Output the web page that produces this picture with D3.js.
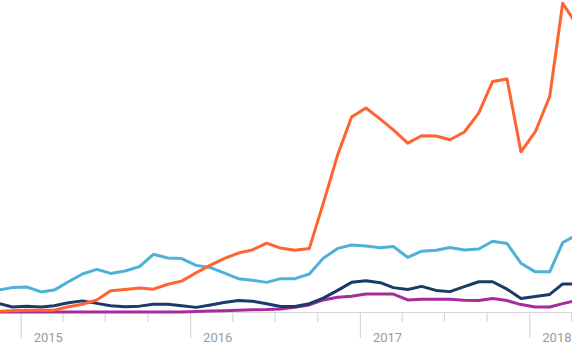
<!DOCTYPE html>
<html>
<head>
<meta charset="utf-8">
<script src="https://cdn.jsdelivr.net/npm/d3@7"></script>
<style>
  html, body { margin: 0; padding: 0; background: #fff; }
  svg { display: block; }
  .axis text { font-family: Roboto, "Noto Sans", sans-serif; }
</style>
</head>
<body>
<svg id="chart" width="572" height="364"></svg>
<script>
// Months: Nov 2014 .. Apr 2018 (monthly, mid-month)
const startYear = 2014, startMonth = 10, monthCount = 42;
const months = d3.range(monthCount).map(k => new Date(startYear, startMonth + k, 14));

const orange = [0.2,0.4,0.6,0.6,0.6,1.7,2.5,3.9,6.9,7.3,7.8,7.4,9.0,10.0,12.7,15.2,17.3,19.1,20.1,22.3,20.7,20.0,20.6,35.2,50.9,63.2,66.1,62.5,59.0,54.7,57.1,57.0,55.8,58.3,64.4,74.7,75.5,51.9,58.4,69.8,100,92.9];
const lightBlue = [7.1,7.9,8.1,6.5,7.1,9.8,12.3,13.8,12.5,13.3,14.7,18.7,17.5,17.3,15.1,14.4,12.7,10.8,10.3,9.6,10.8,10.8,12.3,17.4,20.6,21.7,21.4,20.8,21.2,17.7,19.7,20.0,20.9,20.1,20.4,22.9,22.2,15.8,13.0,13.0,22.5,25.0];
const navy = [2.8,1.6,1.9,1.6,2.0,3.0,3.6,2.8,2.0,1.7,1.9,2.5,2.5,2.0,1.5,2.3,3.1,3.7,3.5,2.7,1.8,1.8,2.7,4.5,7.0,9.6,10.1,9.5,7.9,7.3,8.3,7.0,6.6,8.2,9.8,9.8,7.4,4.4,5.0,5.7,9.1,9.1];
const purple = [0,0,0,0,0,0,0,0,0,0,0,0,0,0,0.2,0.3,0.4,0.6,0.7,0.8,1.0,1.5,2.3,3.9,4.8,5.1,5.8,5.8,5.8,3.9,4.1,4.1,4.1,3.8,3.7,4.4,3.7,2.4,1.6,1.6,2.7,3.8];

const yearTickLabels = ["2015","2016","2017","2018"];

const seriesList = [
  { name: "purple", values: purple, color: "#a42c9c" },
  { name: "lightBlue", values: lightBlue, color: "#4eb2d8" },
  { name: "navy", values: navy, color: "#1a3a6a" },
  { name: "orange", values: orange, color: "#ff6330" }
];

const W = 572, H = 364;
const baseY = 312, topY = 3.3;
const svg = d3.select("#chart");

// The view is a window onto a wider chart: Jan 2015 sits 20.7px in, Jan 2018 at 529.3px.
const xRef = d3.scaleTime()
  .domain([new Date(2015,0,1), new Date(2018,0,1)])
  .range([20.7, 529.3]);
const x = d3.scaleTime().domain([xRef.invert(0), xRef.invert(W)]).range([0, W]);
const y = d3.scaleLinear().domain([0, 100]).range([baseY, topY]);

// axis
const axis = d3.axisBottom(x)
  .ticks(d3.timeMonth.every(3))
  .tickSize(10)
  .tickSizeOuter(0)
  .tickFormat("");
const gAxis = svg.append("g").attr("class", "axis")
  .attr("transform", `translate(0,${baseY})`)
  .call(axis);
gAxis.select(".domain").attr("stroke", "#d6d6d6").attr("stroke-width", 1);
gAxis.selectAll(".tick line").attr("stroke", "#d6d6d6").attr("stroke-width", 1.2);
gAxis.selectAll(".tick").filter(d => d.getMonth() === 0)
  .each(function(d) {
    const g = d3.select(this);
    g.select("line").attr("y2", 26);
    const label = yearTickLabels.find(t => +t === d.getFullYear());
    if (label) {
      g.append("text")
        .attr("x", 12.5)
        .attr("y", 29.8)
        .attr("text-anchor", "start")
        .attr("fill", "#9b9b9b")
        .attr("font-size", 13)
        .text(label);
    }
  });

const line = d3.line()
  .x((d, i) => x(months[i]))
  .y(d => y(d));

svg.append("g").selectAll("path")
  .data(seriesList)
  .join("path")
  .attr("d", s => line(s.values))
  .attr("fill", "none")
  .attr("stroke", s => s.color)
  .attr("stroke-width", 3)
  .attr("stroke-linejoin", "round")
  .attr("stroke-linecap", "round");
</script>
</body>
</html>
